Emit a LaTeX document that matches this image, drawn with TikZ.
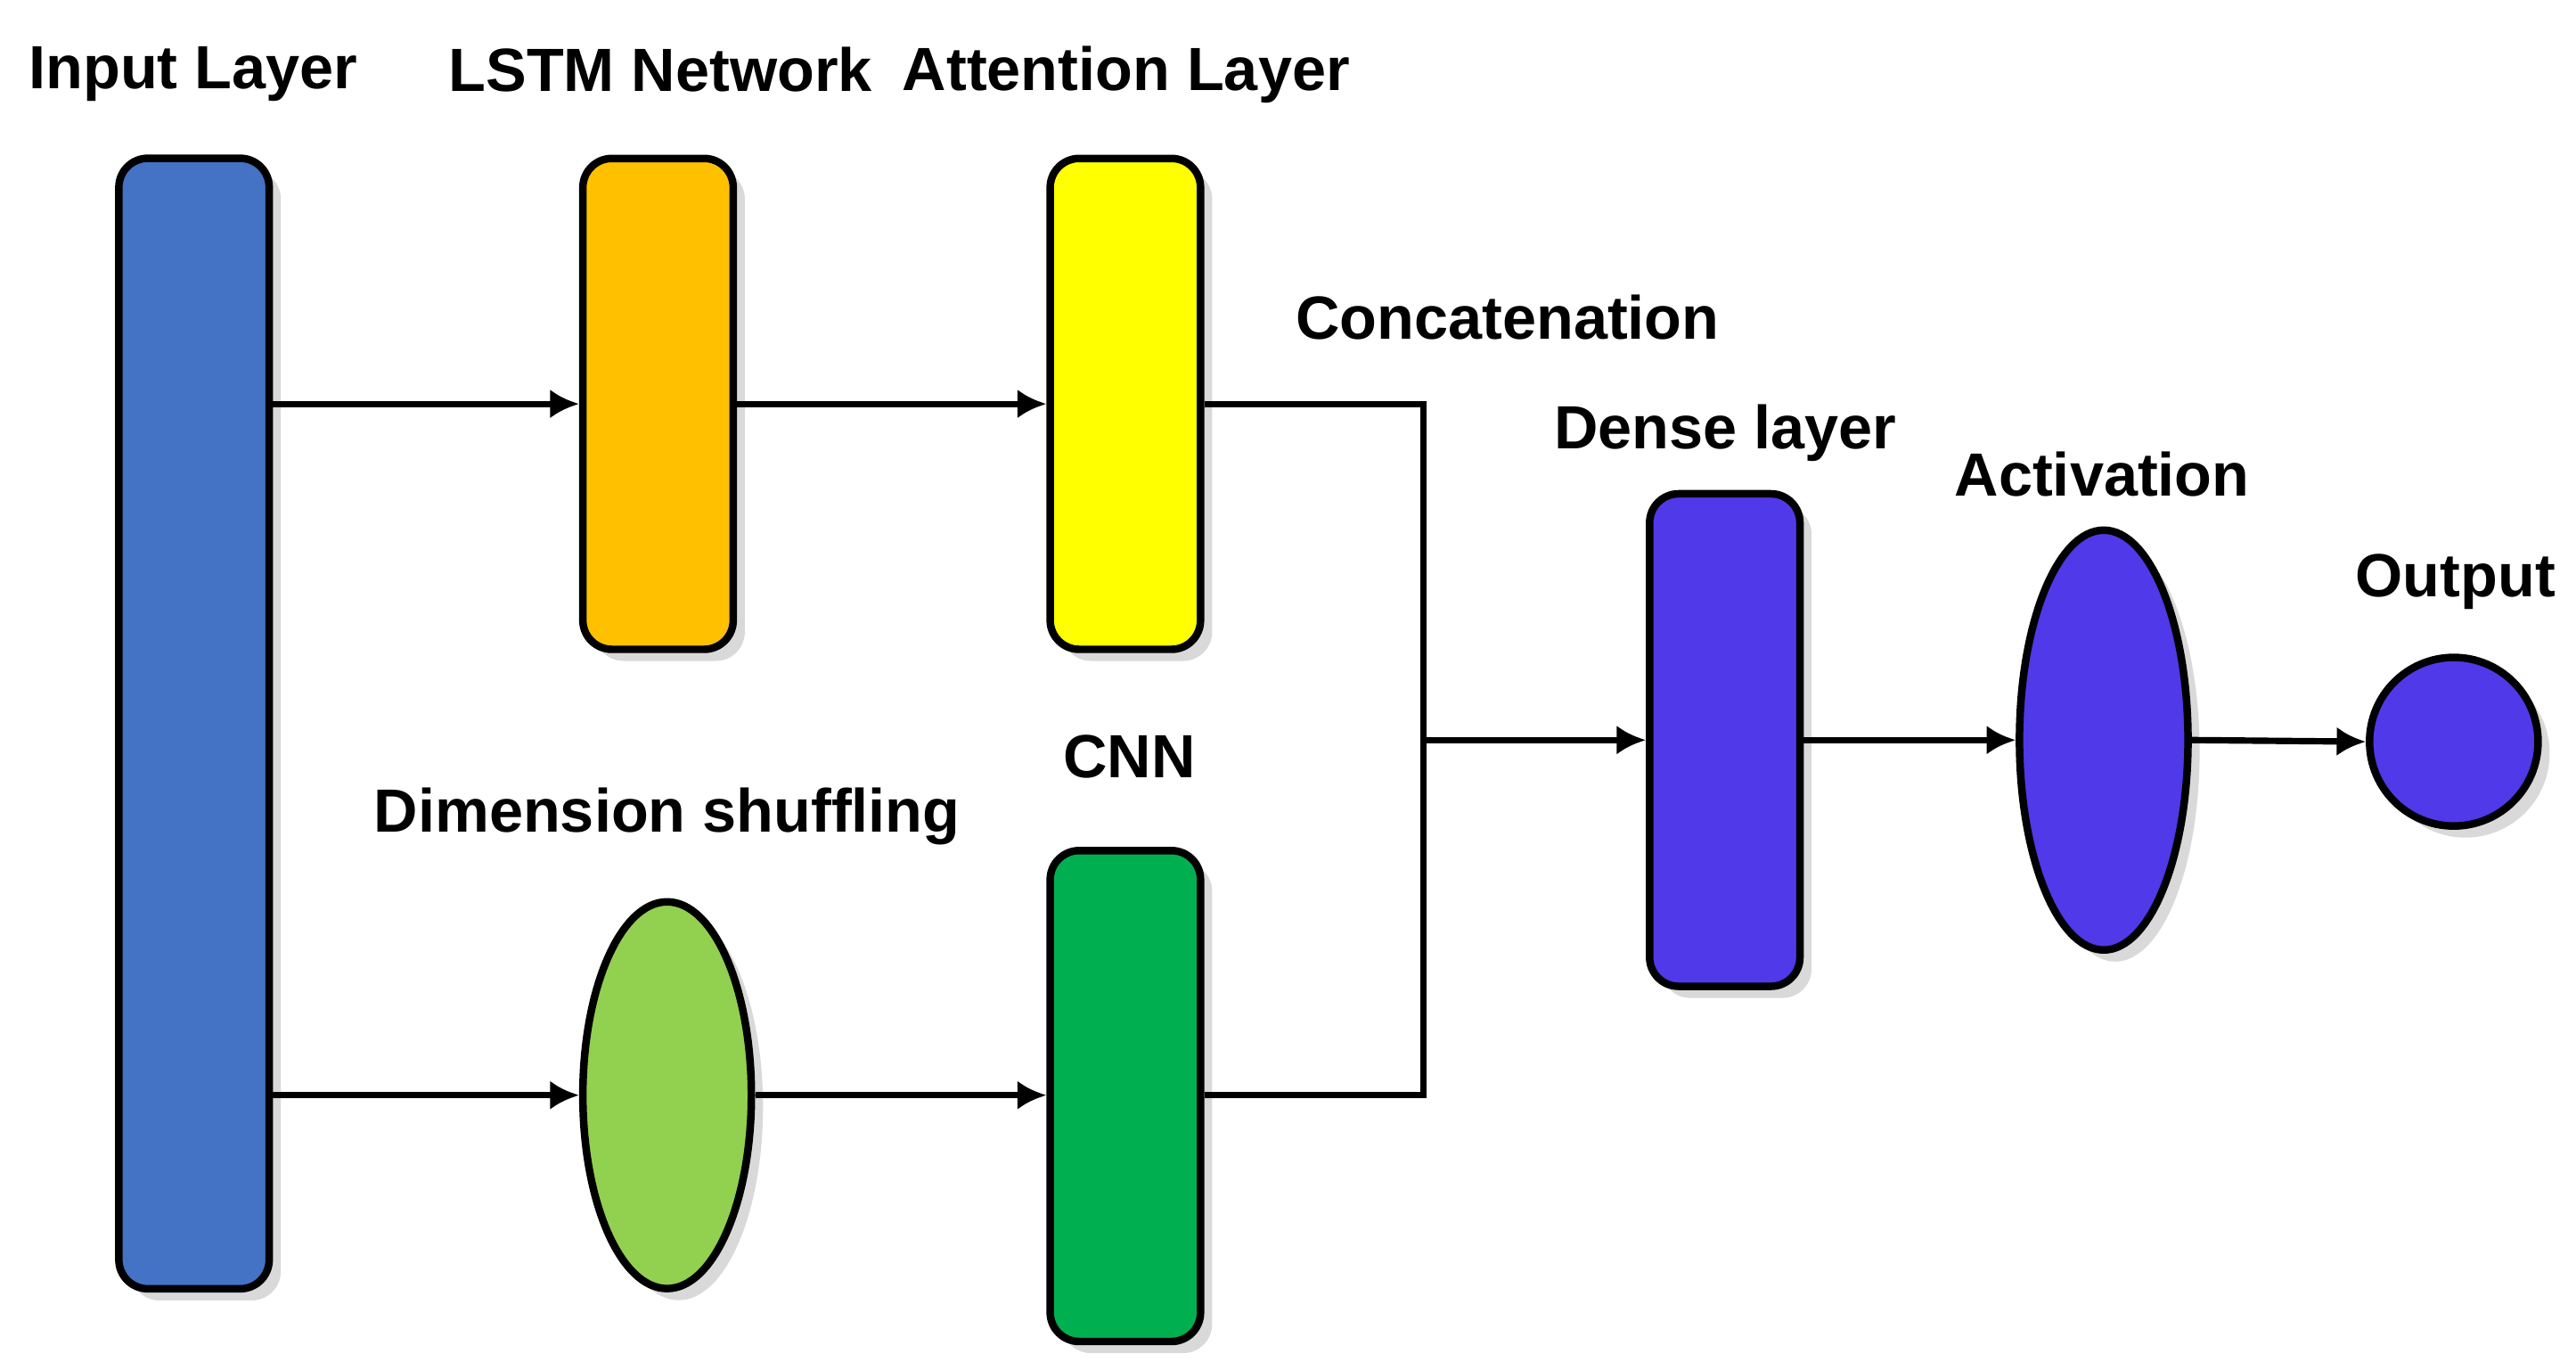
\documentclass[tikz,border=0pt]{standalone}
\usepackage{fontspec}
\setmainfont{Liberation Sans}
\usetikzlibrary{shapes.geometric,arrows.meta,shadows}
\begin{document}
\begin{tikzpicture}[x=0.01cm,y=-0.01cm]
  \tikzset{
    blk/.style={rectangle, rounded corners=5pt, draw=black, line width=1.3pt, inner sep=0pt,
      minimum width=0.91cm, drop shadow={shadow xshift=2pt,shadow yshift=-2pt,opacity=0.3}},
    ell/.style={ellipse, draw=black, line width=1.3pt, inner sep=0pt, minimum width=1.02cm,
      drop shadow={shadow xshift=2pt,shadow yshift=-2pt,opacity=0.3}},
    lbl/.style={font=\fontsize{10.5}{12}\selectfont\bfseries, inner sep=0pt},
    arrow/.style={line width=1.1pt, -{Latex[length=5pt,width=5pt]}},
    line/.style={line width=1.1pt}
  }
  \useasboundingbox (0,0) rectangle (1560,829);
  % blocks
  \node (in) [blk, fill={rgb,255:red,68;green,114;blue,196}, minimum height=6.84cm] at (117.5,438) {};
  \node (lstm) [blk, fill={rgb,255:red,255;green,192;blue,0}, minimum height=2.97cm] at (398.5,244.5) {};
  \node (att) [blk, fill={rgb,255:red,255;green,255;blue,0}, minimum height=2.97cm] at (681.5,244.5) {};
  \node (shuf) [ell, fill={rgb,255:red,146;green,208;blue,80}, minimum height=2.34cm] at (404,663) {};
  \node (cnn) [blk, fill={rgb,255:red,0;green,176;blue,80}, minimum height=2.97cm] at (681.5,663.5) {};
  \node (dense) [blk, fill={rgb,255:red,80;green,57;blue,232}, minimum height=2.98cm] at (1044.5,448) {};
  \node (act) [ell, fill={rgb,255:red,80;green,57;blue,232}, minimum height=2.54cm] at (1274,448) {};
  \node (out) [circle, draw=black, line width=1.3pt, inner sep=0pt, minimum size=1.02cm,
    fill={rgb,255:red,80;green,57;blue,232},
    drop shadow={shadow xshift=2pt,shadow yshift=-2pt,opacity=0.3}] at (1486,449) {};
  % labels
  \node (lin) [lbl] at (117,45) {Input Layer};
  \node (llstm) [lbl] at (400,42) {LSTM Network};
  \node (latt) [lbl] at (682,45) {Attention Layer};
  \node (lshuf) [lbl] at (404,494) {Dimension shuffling};
  \node (lcnn) [lbl] at (684,458) {CNN};
  \node (lcat) [lbl] at (913,192) {Concatenation};
  \node (ldense) [lbl] at (1045,262) {Dense layer};
  \node (lact) [lbl] at (1273,287) {Activation};
  \node (lout) [lbl] at (1487,352) {Output};
  % connectors
  \coordinate (jt) at (862,244.5);
  \coordinate (jb) at (862,663);
  \coordinate (j) at (862,448);
  \draw[arrow] (in.east |- lstm.west) -- (lstm.west);
  \draw[arrow] (lstm.east) -- (att.west);
  \draw[arrow] (in.east |- shuf.west) -- (shuf.west);
  \draw[arrow] (shuf.east) -- (cnn.west |- shuf.east);
  \draw[line] (att.east) -- (jt) -- (jb) -- (cnn.east |- jb);
  \draw[arrow] (j) -- (dense.west);
  \draw[arrow] (dense.east) -- (act.west);
  \draw[arrow] (act.east) -- (out.west);
\end{tikzpicture}
\end{document}
